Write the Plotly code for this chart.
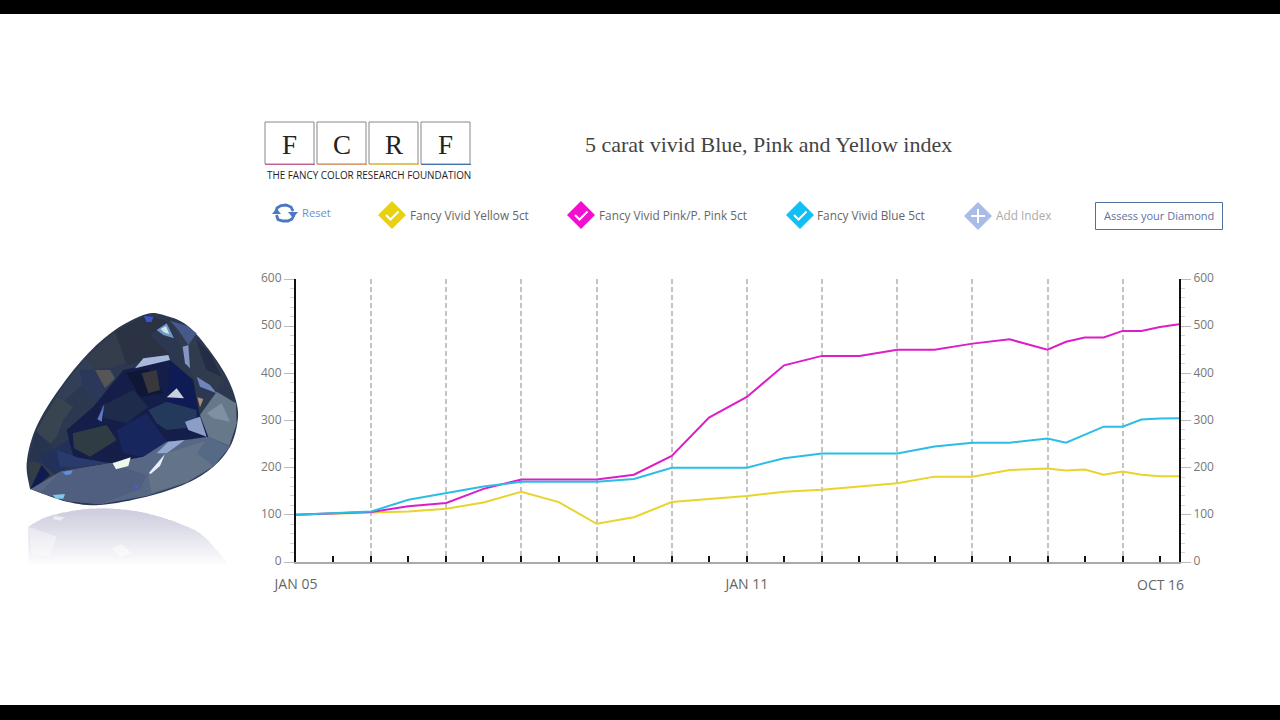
import plotly.graph_objects as go

DATES = ["2005-01-01","2005-07-01","2006-01-01","2006-07-01","2007-01-01","2007-07-01","2008-01-01","2008-07-01",
         "2009-01-01","2009-07-01","2010-01-01","2010-07-01","2011-01-01","2011-07-01","2012-01-01","2012-07-01",
         "2013-01-01","2013-07-01","2014-01-01","2014-07-01","2015-01-01","2015-04-01","2015-07-01","2015-10-01",
         "2016-01-01","2016-04-01","2016-07-01","2016-10-01"]
YELLOW = [100,102,104,107,113,126,149,127,81,95,127,134,140,149,153,160,167,181,181,195,198,194,196,185,192,185,182,182]
PINK   = [100,103,106,118,125,155,175,175,175,185,225,306,350,417,437,437,450,450,463,472,450,467,476,476,490,490,498,504]
BLUE   = [100,103,107,132,146,160,170,170,170,176,200,200,200,220,230,230,230,245,253,253,262,253,270,287,287,302,304,305]
YEAR_TICKS = [f"{y}-01-01" for y in range(2005, 2017)]
YEAR_TEXT = ["JAN 05","","","","","","JAN 11","","","","",""]
HALF_TICKS = [f"{y}-07-01" for y in range(2005, 2017)]
Y_TICKS = [0,100,200,300,400,500,600]
TITLE = "5 carat vivid Blue, Pink and Yellow index"
LEGEND = ["Fancy Vivid Yellow 5ct","Fancy Vivid Pink/P. Pink 5ct","Fancy Vivid Blue 5ct"]

L, R, T, B = 296, 1179, 279, 562
def X(px): return (px - L) / (R - L)
def Y(py): return (B - py) / (B - T)
def path(pts, close=True):
    s = "M " + " L ".join(f"{X(a):.5f},{Y(b):.5f}" for a, b in pts)
    return s + (" Z" if close else "")

shapes, annos = [], []
def poly(pts, fill, opacity=1.0):
    shapes.append(dict(type="path", xref="paper", yref="paper", path=path(pts), fillcolor=fill, opacity=opacity,
                       line=dict(color=fill, width=0)))
def stroke(pts, color, w):
    shapes.append(dict(type="path", xref="paper", yref="paper", path=path(pts, False), line=dict(color=color, width=w)))
def rect(x0, y0, x1, y1, fill="rgba(0,0,0,0)", line=None, lw=0):
    shapes.append(dict(type="rect", xref="paper", yref="paper", x0=X(x0), x1=X(x1), y0=Y(y0), y1=Y(y1),
                       fillcolor=fill, line=dict(color=line or "rgba(0,0,0,0)", width=lw)))
def text(px, py, s, size, color, font="Open Sans", anchor="left"):
    annos.append(dict(xref="paper", yref="paper", x=X(px), y=Y(py), text=s, showarrow=False, xanchor=anchor,
                      yanchor="middle", font=dict(family=font, size=size, color=color), borderpad=0))
def smooth(pts, n=8):
    """Rounds the hand-traced gem outline (decoration only); the end points stay sharp."""
    out, m = [], len(pts)
    for i in range(m - 1):
        p0, p1, p2, p3 = pts[max(i-1, 0)], pts[i], pts[i+1], pts[min(i+2, m-1)]
        for k in range(n):
            t = k / n
            out.append(tuple(.5 * (2*b + (c-a)*t + (2*a-5*b+4*c-d)*t*t + (3*b-a-3*c+d)*t**3) for a, b, c, d in zip(p0, p1, p2, p3)))
    out.append(pts[-1])
    return out

# letterbox bars
rect(0, 0, 1280, 14, "#000000")
rect(0, 705, 1280, 720, "#000000")

# logo
for x0, ch in zip((265, 317, 369, 421), "FCRF"):
    rect(x0, 122, x0 + 49, 164, "#ffffff", "#888888", 1)
    text(x0 + 24.5, 145, ch, 27, "#222222", "Liberation Serif", "center")
for x0, c in zip((265, 317, 369, 421), ("#c0609a", "#d89a70", "#e0c060", "#4a70a8")):
    stroke([(x0, 164.5), (x0 + 50, 164.5)], c, 1)
text(265.5, 174.5, "THE FANCY COLOR RESEARCH FOUNDATION", 9.9, "#222222")
text(584, 144.5, TITLE, 22, "#444444", "Liberation Serif")

# legend row
def diamond(cx, cy, r, fill):
    poly([(cx, cy - r), (cx + r, cy), (cx, cy + r), (cx - r, cy)], fill)
for cx, c, tx, s in zip((392, 581, 800), ("#e8d210", "#f40fd0", "#10bff5"), (408.5, 597.5, 816), LEGEND):
    diamond(cx, 215, 14, c)
    stroke([(cx - 6, 215), (cx - 1.5, 219.5), (cx + 6.5, 211.5)], "#ffffff", 2)
    text(tx, 214.8, s, 11.8, "#666666")
diamond(978, 216, 14, "#a9bce8")
stroke([(978, 209), (978, 223)], "#ffffff", 2)
stroke([(971, 216), (985, 216)], "#ffffff", 2)
text(995, 214.8, "Add Index", 11.8, "#aaaaaa")
rect(1095.5, 202.5, 1222.5, 229.5, "#ffffff", "#4f6f9c", 1)
text(1159, 215, "Assess your Diamond", 11, "#6272a4", anchor="center")

# reset icon
ic = "#4a78c4"
stroke([(276, 212), (277, 208), (281, 205.5), (286, 205), (291, 207), (293, 211)], ic, 2.8)
poly([(288, 212), (298, 212), (293, 218)], ic)
stroke([(294, 215), (292, 219), (288, 221), (283, 221), (278, 219.5), (276.5, 215)], ic, 2.8)
poly([(272, 214), (281, 214), (276.5, 208.5)], ic)
text(301, 213, "Reset", 11.2, "#6f8fcc")

# gemstone, hand-traced polygon coordinates
def z(pts): return [(a / 3, 290 + b / 3) for a, b in pts]
TOP = smooth([(85,710),(130,685),(180,670),(250,658),(320,655),(400,662),(460,675),(530,697),(600,730),(650,780),(690,830)])
for bottom in range(675, 835, 10):
    pts = [(a, min(b, bottom)) for a, b in TOP] + [(85, bottom)]
    poly(z(pts), "#667088", .018)
poly(z([(85,710),(170,740),(150,800),(95,790)]), "#ffffff", .35)
poly(z([(160,678),(195,682),(180,692),(160,688)]), "#ffffff", .55)
poly(z([(335,775),(365,762),(395,790),(360,800)]), "#ffffff", .5)
poly(z([(445,750),(470,790),(495,815),(470,790)]), "#ffffff", .5)

OUTLINE = smooth([(90,597),(80,520),(105,420),(165,315),(255,200),(345,120),(440,72),(500,78),(560,105),(620,170),(680,260),
                  (710,340),(712,400),(690,470),(640,530),(560,580),(440,620),(300,645),(200,635),(90,597)])
poly(z(OUTLINE), "#2b3850")
F = [
 ("#333d4c", [(255,205),(345,125),(440,76),(445,150),(390,215),(330,235),(250,240)]),
 ("#2a3243", [(345,125),(440,76),(505,95),(450,135),(510,195),(440,210),(380,225)]),
 ("#323f57", [(170,315),(255,205),(285,240),(240,290),(180,345)]),
 ("#2b3859", [(240,240),(340,235),(360,300),(290,330),(250,300)]),
 ("#565558", [(285,240),(330,240),(345,265),(315,295)]),
 ("#38444f", [(110,420),(170,320),(220,350),(190,390),(170,440),(125,490)]),
 ("#28334f", [(85,520),(108,425),(150,460),(170,500),(120,520),(95,510)]),
 ("#22315a", [(125,500),(220,440),(220,490),(240,505),(180,545),(130,570)]),
 ("#323d45", [(85,515),(125,520),(165,555),(115,590),(90,595)]),
 ("#101c50", [(92,595),(125,525),(150,555),(110,590)]),
 ("#141e48", [(200,420),(280,350),(370,240),(510,210),(580,270),(600,380),(625,440),(500,455),(430,500),(330,520),(220,500)]),
 ("#0f1636", [(380,250),(445,235),(490,310),(420,320)]),
 ("#38383c", [(425,250),(470,240),(480,300),(445,310)]),
 ("#0e1b54", [(510,215),(575,270),(590,360),(500,340)]),
 ("#1e2b4a", [(300,350),(400,300),(445,350),(380,400),(315,385)]),
 ("#233a5c", [(445,360),(500,335),(590,360),(590,410),(500,420),(470,400)]),
 ("#303c44", [(218,430),(320,405),(350,450),(270,500),(222,475)]),
 ("#18265e", [(350,420),(440,370),(500,455),(430,500),(370,490)]),
 ("#2a3a6c", [(170,480),(240,505),(330,520),(240,530),(180,530)]),
 ("#566886", [(92,597),(180,545),(330,520),(430,500),(500,455),(560,450),(625,440),(690,470),(640,530),(560,578),(440,618),(300,643),(200,633)]),
 ("#505f80", [(180,545),(330,520),(440,555),(420,598),(300,643),(200,633),(120,608)]),
 ("#647488", [(445,555),(500,490),(625,450),(636,530),(560,576),(455,608)]),
 ("#566a88", [(625,440),(688,470),(640,528),(590,490)]),
 ("#66788a", [(600,375),(650,305),(708,340),(710,400),(688,468),(625,440)]),
 ("#7e90a4", [(620,370),(665,340),(690,395),(640,385)]),
 ("#313b4e", [(520,95),(618,172),(678,260),(650,305),(600,290),(560,225),(545,180)]),
 ("#46598a", [(510,92),(560,107),(590,130),(565,165),(535,120)]),
 ("#242d46", [(590,150),(630,190),(665,260),(620,240),(605,200)]),
 ("#8496c4", [(548,170),(565,165),(570,235),(555,220)]),
 ("#6f84bc", [(590,260),(630,285),(650,310),(600,290)]),
 ("#a8b8dc", [(430,205),(505,195),(510,210),(405,235)]),
 ("#6d98c8", [(470,120),(500,100),(522,145),(490,135)]),
 ("#cfe6e6", [(482,117),(498,108),(508,133),(492,127)]),
 ("#3c55c8", [(432,78),(460,80),(455,95),(440,97)]),
 ("#c8d0e0", [(500,322),(530,295),(552,325)]),
 ("#5f75c8", [(292,388),(313,342),(305,395)]),
 ("#b08c70", [(592,322),(610,327),(600,352)]),
 ("#8c9ec8", [(555,395),(600,380),(620,440),(565,420)]),
 ("#93a8d0", [(505,455),(555,450),(500,490),(470,490)]),
 ("#eef8ee", [(338,520),(392,502),(385,528),(348,538)]),
 ("#e8eefa", [(447,548),(495,492),(480,528),(452,552)]),
 ("#7fc8ee", [(158,615),(195,612),(190,626),(168,626)]),
 ("#5f8fe0", [(187,545),(218,541),(213,553),(197,555)]),
 ("#4c5ed0", [(402,590),(420,582),(410,598)]),
]
for c, pts in F:
    poly(z(pts), c)

fig = go.Figure()
for name, vals, col, ya in ((LEGEND[0], YELLOW, "#e8d42c", "y"), (LEGEND[1], PINK, "#dc1ec8", "y"), (LEGEND[2], BLUE, "#2bbde6", "y2")):
    fig.add_trace(go.Scatter(x=DATES, y=vals, name=name, mode="lines", yaxis=ya, line=dict(color=col, width=2)))

yax = dict(range=[0, 600], tickvals=Y_TICKS, showgrid=False, zeroline=False, showline=True, linecolor="#111111", linewidth=2,
           ticks="outside", ticklen=10, tickcolor="#bbbbbb", tickwidth=1, ticklabelshift=-1,
           minor=dict(tick0=0, dtick=20, ticks="outside", ticklen=4, tickcolor="#d5d5d5", tickwidth=1),
           tickfont=dict(family="Open Sans", size=12, color="#777777"))
text_oct = dict(xref="x", yref="paper", x=DATES[-1], xshift=-19, y=Y(584), text="OCT 16", showarrow=False, xanchor="center",
                yanchor="middle", font=dict(family="Open Sans", size=14, color="#666666"))
fig.update_layout(
    width=1280, height=720, margin=dict(l=L, r=1280 - R, t=T, b=720 - B),
    paper_bgcolor="#ffffff", plot_bgcolor="#ffffff", showlegend=False,
    shapes=shapes, annotations=annos + [text_oct],
    xaxis=dict(type="date", range=[DATES[0], DATES[-1]], tickmode="array", tickvals=YEAR_TICKS, ticktext=YEAR_TEXT,
               showgrid=True, gridcolor="#c4c4c4", griddash="5px,3px", gridwidth=1.5, zeroline=False,
               showline=True, linecolor="#aaaaaa", linewidth=2,
               ticks="inside", ticklen=6, tickcolor="#111111", tickwidth=1.5, ticklabelstandoff=8,
               minor=dict(tickvals=HALF_TICKS, ticks="inside", ticklen=6, tickcolor="#111111", tickwidth=1.5, showgrid=False),
               tickfont=dict(family="Open Sans", size=14, color="#666666")),
    yaxis=yax,
    yaxis2=dict(yax, overlaying="y", side="right"),
)
fig.write_html("out.html", post_script="document.body.style.margin='0';", config=dict(displayModeBar=False))
